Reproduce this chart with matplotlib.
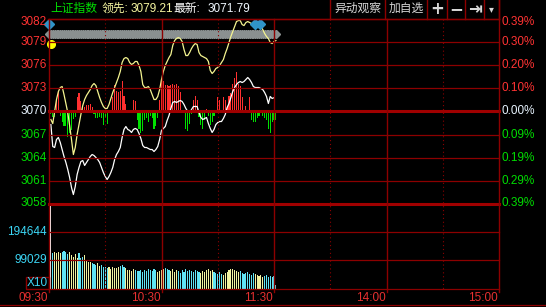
import matplotlib
matplotlib.use("Agg")
import matplotlib.pyplot as plt
from matplotlib.lines import Line2D
from matplotlib.patches import Rectangle
import numpy as np

plt.rcParams["font.family"] = ["Liberation Sans", "Noto Sans CJK SC", "DejaVu Sans"]

# --- data -------------------------------------------------------------
prev_close = 3070.0
price_levels = [3082, 3079, 3076, 3073, 3070, 3067, 3064, 3061, 3058]
pct_labels = ["0.39%", "0.30%", "0.20%", "0.10%", "0.00%",
              "0.09%", "0.19%", "0.29%", "0.39%"]
vol_levels = [99029, 194644]
time_ticks = [0, 60, 120, 180, 240]
time_labels = ["09:30", "10:30", "11:30", "14:00", "15:00"]
half_ticks = [30, 90, 150, 210]

# leading index (yellow), one value per minute
lead = [3068.96, 3068.44, 3070.00, 3071.56, 3072.59, 3073.11, 3073.24, 3072.20, 3071.04, 3069.87,
        3068.18, 3066.37, 3064.42, 3065.33, 3067.02, 3068.31, 3069.61, 3070.78, 3071.56, 3072.08,
        3072.46, 3072.85, 3073.37, 3073.63, 3073.37, 3072.59, 3071.82, 3071.17, 3070.65, 3070.39,
        3070.39, 3070.91, 3071.69, 3072.46, 3073.11, 3073.76, 3074.41, 3075.19, 3076.36, 3076.87,
        3077.00, 3076.87, 3076.36, 3076.10, 3076.23, 3076.49, 3076.49, 3075.97, 3075.19, 3073.50,
        3073.11, 3073.11, 3073.24, 3072.85, 3072.20, 3071.56, 3071.56, 3071.95, 3072.85, 3074.15,
        3075.19, 3075.97, 3076.49, 3077.00, 3077.39, 3078.56, 3079.21, 3079.47, 3079.60, 3079.47,
        3079.08, 3078.04, 3077.26, 3077.26, 3077.65, 3078.17, 3078.56, 3078.82, 3078.69, 3077.65,
        3077.26, 3077.13, 3077.00, 3076.87, 3076.49, 3075.32, 3074.93, 3075.19, 3075.58, 3075.71,
        3075.97, 3076.36, 3076.74, 3077.52, 3078.17, 3078.95, 3079.73, 3080.38, 3081.02, 3081.67,
        3081.80, 3081.80, 3081.28, 3081.15, 3081.54, 3081.67, 3081.54, 3081.41, 3081.28, 3081.41,
        3081.41, 3081.28, 3081.02, 3080.64, 3080.12, 3079.73, 3079.47, 3078.95, 3078.82, 3079.08,
        3079.21]

# latest price (white)
last = [3068.31, 3065.46, 3065.33, 3066.37, 3066.63, 3065.98, 3065.07, 3064.16, 3063.39, 3062.48,
        3061.44, 3060.14, 3059.23, 3060.27, 3061.83, 3062.74, 3063.51, 3063.64, 3063.00, 3063.39,
        3063.77, 3064.16, 3064.42, 3064.29, 3064.03, 3063.77, 3063.39, 3062.74, 3062.09, 3061.57,
        3061.18, 3061.57, 3062.09, 3062.74, 3063.77, 3064.42, 3064.81, 3065.33, 3066.63, 3067.67,
        3068.05, 3067.67, 3067.54, 3067.28, 3067.67, 3067.80, 3067.67, 3067.15, 3066.50, 3065.59,
        3065.33, 3065.33, 3065.20, 3065.07, 3065.07, 3064.81, 3065.07, 3065.46, 3066.37, 3067.54,
        3067.80, 3068.05, 3068.83, 3069.48, 3070.39, 3071.17, 3071.30, 3071.17, 3071.30, 3071.43,
        3071.30, 3070.91, 3070.39, 3070.00, 3069.87, 3070.26, 3070.65, 3070.65, 3070.65, 3069.87,
        3069.22, 3068.96, 3069.09, 3069.22, 3068.44, 3067.80, 3067.28, 3067.67, 3068.31, 3068.57,
        3068.70, 3068.70, 3069.09, 3069.61, 3070.52, 3071.04, 3071.82, 3072.59, 3073.11, 3073.50,
        3073.76, 3073.89, 3073.76, 3073.89, 3074.15, 3074.41, 3074.15, 3073.76, 3073.24, 3073.11,
        3073.11, 3073.11, 3072.98, 3072.85, 3072.46, 3071.95, 3071.04, 3071.95, 3071.69, 3071.79]

# red / green strength bars around the zero line
strength = [-3, -5, -5, 12, 19, -4, -10, -15, -15, -25,
            -22, -18, -8, -5, 15, 18, 10, 5, 4, 6,
            7, 8, 4, -3, -7, -7, -5, -7, -14, -6,
            -12, 0, 1, 15, 26, 21, 20, 21, 30, 16,
            8, 0, 0, -1, 11, 10, -9, -17, -22, -20,
            -9, -7, -10, -4, -7, -17, -15, -7, 11, 31,
            30, 27, 26, 25, 26, 28, 26, 28, 25, 20,
            0, -2, -17, -20, -12, -3, 11, 16, 11, -5,
            -14, -17, -9, 3, -4, -14, -10, -4, 0, 15,
            11, 0, 15, 11, 5, 16, 18, 28, 33, 40,
            28, 25, 15, 0, 5, 0, 15, -9, -10, -10,
            -7, -4, -2, -4, -7, -9, -17, -22, -10, -9,
            -9]

# volume (x10), thousands
vol_k = [290, 123, 126, 123, 126, 123, 126, 130, 126, 120,
         126, 116, 109, 120, 106, 123, 106, 109, 116, 96,
         92, 92, 89, 85, 82, 89, 79, 82, 75, 75,
         72, 75, 68, 75, 72, 72, 75, 79, 82, 75,
         72, 65, 65, 61, 68, 65, 61, 61, 65, 58,
         65, 61, 68, 65, 61, 68, 65, 58, 61, 65,
         68, 72, 68, 65, 61, 68, 58, 65, 61, 55,
         65, 58, 68, 61, 65, 61, 58, 65, 61, 58,
         55, 61, 58, 65, 68, 61, 65, 58, 55, 51,
         58, 51, 48, 55, 58, 65, 68, 68, 65, 61,
         58, 61, 55, 51, 55, 58, 51, 48, 55, 51,
         48, 44, 48, 41, 44, 48, 41, 44, 41, 44,
         14]
vol_kind = ("w" "c" "yyyy" "cccc" "yyyyy" "ccc" "yyyy" "ccc" "yy" "cccc"
            "yyyyyy" "ccc" "yyyyy" "cccccccccccc" "yyyy" "ccc" "yyyy"
            "cccccccccccc" "yyyyyyy" "ccccc" "yyyyyyyyy" "cccccccc"
            "yyyyy" "ccccccc")

band_level = 3080.05
mark_pos = [0, 110, 112.7]
mark_price = 3081.35
dot_pos, dot_price = 1, 3078.76

# --- figure ----------------------------------------------------------
W, H = 546, 307
L, R, TOP, MID, BOT = 49, 499, 19, 204, 289
grid_c = "#8c0000"
red_c, green_c, white_c = "#ff3333", "#00dd00", "#e8f4ff"
cyan_c, pale_c = "#3cd6f5", "#f6f6a0"
fs = 8.5


def fx(x):
    return x / W


def fy(y):
    return 1 - y / H


def tx(p):
    return L + p * (R - L) / 240


def py(v):
    return TOP + (3082 - v) * (MID - TOP) / 24


fig = plt.figure(figsize=(W / 100, H / 100), dpi=100, facecolor="black")


def fline(xs, ys, lw=1.0, ls="-", color=grid_c):
    fig.add_artist(Line2D([fx(x) for x in xs], [fy(y) for y in ys],
                          lw=lw, ls=ls, color=color, zorder=1))


ax = fig.add_axes([fx(L), fy(MID), (R - L) / W, (MID - TOP) / H])
axv = fig.add_axes([fx(L), fy(BOT), (R - L) / W, (BOT - MID) / H])
for a in (ax, axv):
    a.set_facecolor("black")
    a.set_xlim(0, 240)
    a.axis("off")
ax.set_ylim(3058, 3082)
axv.set_ylim(0, 290300)

# grid
for lvl in price_levels:
    y = py(lvl)
    thick = lvl in (prev_close, price_levels[-1])
    fline([L, R], [y, y], lw=2.2 if thick else 0.9,
          color="#a00000" if thick else grid_c)
for v in vol_levels:
    y = BOT - v / 290300 * (BOT - MID)
    fline([L, R], [y, y], lw=0.9)
fline([L, R], [BOT, BOT], lw=0.9)
fline([L - 1, R], [TOP, TOP], lw=1.0)
fline([0, W], [305, 305], lw=0.9)
for t in time_ticks:
    x = tx(t)
    fline([x, x], [TOP if t < 240 else 0, 292], lw=1.0)
for t in half_ticks:
    x = tx(t)
    fline([x, x], [TOP, BOT], lw=0.8, ls=(0, (1, 2.5)))

# price / percent labels
for lvl, pct in zip(price_levels, pct_labels):
    c = red_c if lvl > prev_close else (white_c if lvl == prev_close else green_c)
    y = max(py(lvl), 22) if lvl > prev_close else min(py(lvl), 203)
    fig.text(fx(47), fy(y), str(lvl), color=c, fontsize=fs, ha="right", va="center")
    fig.text(fx(502), fy(y), pct, color=c, fontsize=fs, ha="left", va="center")
for v in vol_levels:
    y = BOT - v / 290300 * (BOT - MID)
    fig.text(fx(47), fy(y), str(v), color=cyan_c, fontsize=fs, ha="right", va="center")
fig.add_artist(Rectangle((fx(26), fy(BOT)), 23 / W, 12 / H, transform=fig.transFigure,
                         fill=False, edgecolor=grid_c, lw=1.0))
fig.text(fx(37.5), fy(283), "X10", color=cyan_c, fontsize=fs, ha="center", va="center")
for t, lab in zip(time_ticks, time_labels):
    fig.text(fx(tx(t) - 1), fy(298), lab, color="#e83030", fontsize=fs,
             ha="right", va="center")

# strength bars
pos = np.arange(1, len(strength) + 1)
s = np.array(strength, dtype=float)
bar_scale = 24 / (MID - TOP)
ax.bar(pos, s * bar_scale, bottom=prev_close, width=0.6,
       color=np.where(s > 0, "#ff3030", "#00e000"), zorder=2, linewidth=0)

# price lines
ax.plot(np.arange(1, len(last) + 1), last, color="white", lw=0.9, zorder=3)
ax.plot(np.arange(0, 122), [band_level] * 122, color="#8a9090", lw=3.6,
        marker="D", ms=4.2, mec="#8a9090", zorder=4, clip_on=False)
ax.plot(np.arange(1, len(lead) + 1), lead, color="#f4f490", lw=0.9, zorder=5)
ax.plot(mark_pos, [mark_price] * len(mark_pos), ls="none", marker="D", ms=5.5,
        color="#2f93c8", zorder=6, clip_on=False)
ax.plot([dot_pos], [dot_price], ls="none", marker="o", ms=5.5, color="#ffff00",
        zorder=6, clip_on=False)

# volume bars
vcol = {"w": "white", "c": "#60e4f4", "y": "#f2f2a0"}
axv.bar(np.arange(1, len(vol_k) + 1), np.array(vol_k) * 1000, width=0.6,
        color=[vcol[k] for k in vol_kind], linewidth=0, zorder=2)

# header
fig.text(fx(50), fy(9), "上证指数", color="#00e000", fontsize=fs, va="center")
fig.text(fx(102), fy(9), "领先:", color=pale_c, fontsize=fs, va="center")
fig.text(fx(131), fy(9), f"{lead[-1]:.2f}", color=pale_c, fontsize=fs, va="center")
fig.text(fx(173), fy(9), "最新:", color="white", fontsize=fs, va="center")
fig.text(fx(208), fy(9), f"{last[-1]:.2f}", color="#f0f8ff", fontsize=fs, va="center")

# buttons
edges = [330, 385, 427, 447, 465, 484, 499]
labels = ["异动观察", "加自选", "+", "−", "⇥", "▾"]
for x in edges:
    fline([x, x], [0, TOP], lw=1.0)
for x0, x1, lab in zip(edges[:-1], edges[1:], labels):
    big = lab in ("+", "−", "⇥")
    fig.text(fx((x0 + x1) / 2), fy(9), lab, color="#d8d8d8",
             fontsize=12 if big else (7 if lab == "▾" else fs),
             fontweight="bold" if big else "normal",
             family=["DejaVu Sans"] if len(lab) == 1 else None,
             ha="center", va="center")

fig.savefig("out.png", dpi=100, facecolor="black")
